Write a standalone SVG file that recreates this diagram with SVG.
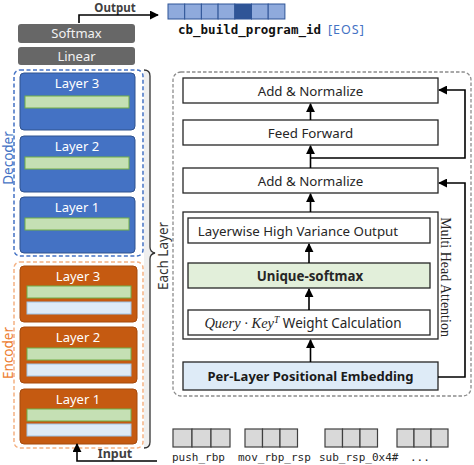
<svg xmlns="http://www.w3.org/2000/svg" width="474" height="465" viewBox="0 0 474 465">
<defs>
<marker id="ah" viewBox="0 0 10 10" refX="9" refY="5" markerWidth="9" markerHeight="9" markerUnits="userSpaceOnUse" orient="auto">
<path d="M0,0 L10,5 L0,10 z" fill="#000"/>
</marker>
</defs>
<style>
.sans{font-family:"Noto Sans","Open Sans","Liberation Sans",sans-serif;}
.mono{font-family:"DejaVu Sans Mono","Liberation Mono",monospace;}
.gray{fill:#676767;}
.gtxt{fill:#F2F2F2;font-size:13px;text-anchor:middle;}
.dec{fill:#4472C4;stroke:#2F528F;stroke-width:1;}
.enc{fill:#C55A11;stroke:#A54A0C;stroke-width:1;}
.grn{fill:#C5E0B4;stroke:#70AD47;stroke-width:1;}
.lb{fill:#DEEBF7;stroke:#9DC3E6;stroke-width:1;}
.ltxt{fill:#fff;font-size:13px;text-anchor:middle;}
.box{fill:#fff;stroke:#262626;stroke-width:1.3;}
.btxt{font-size:13.3px;text-anchor:middle;fill:#262626;}
.con{stroke:#000;stroke-width:1.6;fill:none;}
.tok{fill:#D9D9D9;stroke:#404040;stroke-width:1.2;}
.otok{fill:#8FAADC;stroke:#2F5597;stroke-width:1;}
.ttxt{font-size:11px;fill:#262626;}
</style>

<g id="output-label">
<text x="115" y="12" class="sans" font-size="11.5" text-anchor="middle" fill="#404040" font-weight="bold">Output</text>
</g>
<g id="output-tokens">
<rect x="168" y="4" width="16.7" height="15" class="otok"/>
<rect x="184.7" y="4" width="16.7" height="15" class="otok"/>
<rect x="201.4" y="4" width="16.7" height="15" class="otok"/>
<rect x="218.1" y="4" width="16.7" height="15" class="otok"/>
<rect x="234.8" y="4" width="16.7" height="15" fill="#2F5597" stroke="#2F5597"/>
<rect x="251.5" y="4" width="16.7" height="15" class="otok"/>
<rect x="268.2" y="4" width="16.7" height="15" class="otok"/>
<text x="178" y="34" class="mono" font-size="12.5" font-weight="bold" fill="#111">cb_build_program_id</text>
<text x="328" y="34" class="sans" font-size="12.5" letter-spacing="1" fill="#4472C4">[EOS]</text>
</g>

<g id="softmax">
<rect x="18" y="24" width="117" height="19" rx="3" class="gray"/>
<text x="76.5" y="38" class="sans gtxt">Softmax</text>
</g>
<g id="linear">
<rect x="18" y="47" width="117" height="18" rx="3" class="gray"/>
<text x="76.5" y="61" class="sans gtxt">Linear</text>
</g>

<g id="decoder">
<rect x="14" y="70" width="129" height="186" rx="6" fill="none" stroke="#4472C4" stroke-width="1.5" stroke-dasharray="4,2.5"/>
<text transform="translate(13,158) rotate(-90)" class="sans" font-size="13.5" fill="#4472C4" text-anchor="middle">Decoder</text>
</g>
<g id="decoder-layer3">
<rect x="20" y="73" width="115" height="57" rx="4" class="dec"/>
<text x="77" y="88" class="sans ltxt">Layer 3</text>
<rect x="25" y="96" width="104" height="12" class="grn"/>
</g>
<g id="decoder-layer2">
<rect x="20" y="136" width="115" height="56" rx="4" class="dec"/>
<text x="77" y="151" class="sans ltxt">Layer 2</text>
<rect x="25" y="157" width="104" height="12" class="grn"/>
</g>
<g id="decoder-layer1">
<rect x="20" y="197" width="115" height="56" rx="4" class="dec"/>
<text x="77" y="212" class="sans ltxt">Layer 1</text>
<rect x="25" y="218" width="104" height="12" class="grn"/>
</g>

<g id="encoder">
<rect x="14" y="262" width="129" height="186" rx="6" fill="none" stroke="#F4B183" stroke-width="1.5" stroke-dasharray="4,2.5"/>
<text transform="translate(13,353) rotate(-90)" class="sans" font-size="13.5" fill="#ED7D31" text-anchor="middle">Encoder</text>
</g>
<g id="encoder-layer3">
<rect x="20" y="266" width="117" height="56" rx="4" class="enc"/>
<text x="78" y="281" class="sans ltxt">Layer 3</text>
<rect x="27" y="286" width="104" height="12" class="grn"/>
<rect x="27" y="302" width="104" height="12" class="lb"/>
</g>
<g id="encoder-layer2">
<rect x="20" y="327" width="117" height="56" rx="4" class="enc"/>
<text x="78" y="342" class="sans ltxt">Layer 2</text>
<rect x="27" y="348" width="104" height="12" class="grn"/>
<rect x="27" y="364" width="104" height="12" class="lb"/>
</g>
<g id="encoder-layer1">
<rect x="20" y="389" width="117" height="55" rx="4" class="enc"/>
<text x="78" y="404" class="sans ltxt">Layer 1</text>
<rect x="27" y="409" width="104" height="12" class="grn"/>
<rect x="27" y="424" width="104" height="12" class="lb"/>
</g>

<g id="each-layer">
<path d="M144,70 Q150,70 150,76 L150,247 Q150,252 155,253 Q150,254 150,259 L150,442 Q150,448 144,448 Z" fill="#EFEFEF" stroke="none"/>
<path d="M144,70 Q150,70 150,76 L150,247 Q150,252 155,253 Q150,254 150,259 L150,442 Q150,448 144,448" fill="none" stroke="#333" stroke-width="1.3"/>
<text transform="translate(168,256) rotate(-90)" class="sans" font-size="13.5" fill="#333" text-anchor="middle">Each Layer</text>
</g>

<g id="layer-detail">
<rect x="173" y="72" width="298" height="324" rx="8" fill="none" stroke="#8C8C8C" stroke-width="1.3" stroke-dasharray="3.5,2"/>
</g>
<g id="add-normalize-top">
<rect x="183" y="78" width="255" height="25" class="box"/>
<text x="310.5" y="95.5" class="sans btxt">Add &amp; Normalize</text>
</g>
<g id="feed-forward">
<rect x="183" y="120" width="255" height="25" class="box"/>
<text x="310.5" y="137.5" class="sans btxt">Feed Forward</text>
</g>
<g id="add-normalize-bottom">
<rect x="183" y="168" width="255" height="25" class="box"/>
<text x="310.5" y="185.5" class="sans btxt">Add &amp; Normalize</text>
</g>
<g id="multi-head-attention">
<rect x="183" y="212" width="255" height="127" fill="none" stroke="#262626" stroke-width="1.3"/>
<text transform="translate(441,277) rotate(90)" font-family="'Liberation Serif','DejaVu Serif',serif" font-size="14" fill="#262626" text-anchor="middle">Multi Head Attention</text>
</g>
<g id="layerwise-output">
<rect x="188" y="218" width="242" height="25" class="box"/>
<text x="298" y="235.5" class="sans btxt">Layerwise High Variance Output</text>
</g>
<g id="unique-softmax">
<rect x="188" y="263" width="242" height="25" fill="#E2EFDA" stroke="#262626" stroke-width="1.3"/>
<text x="310" y="281" class="sans btxt" font-weight="bold">Unique-softmax</text>
</g>
<g id="query-key">
<rect x="188" y="310" width="242" height="25" class="box"/>
<text x="303" y="328" class="btxt" fill="#262626"><tspan font-family="'Liberation Serif','DejaVu Serif',serif" font-style="italic" font-size="14.5">Query · Key</tspan><tspan font-family="'Liberation Serif','DejaVu Serif',serif" font-style="italic" font-size="9.5" dy="-5">T</tspan><tspan class="sans" dy="5" font-size="13.5"> Weight Calculation</tspan></text>
</g>
<g id="positional-embedding">
<rect x="183" y="362" width="255" height="28" fill="#DEEBF7" stroke="#262626" stroke-width="1.3"/>
<text x="310.5" y="381" class="sans" font-size="13" font-weight="bold" text-anchor="middle" fill="#1a1a1a">Per-Layer Positional Embedding</text>
</g>

<g id="input-tokens">
<rect x="173" y="429" width="19" height="18" class="tok"/><rect x="192" y="429" width="19" height="18" class="tok"/><rect x="211" y="429" width="19" height="18" class="tok"/>
<rect x="245" y="429" width="17.5" height="18" class="tok"/><rect x="262.5" y="429" width="17.5" height="18" class="tok"/><rect x="280" y="429" width="17.5" height="18" class="tok"/>
<rect x="325" y="429" width="17.5" height="18" class="tok"/><rect x="342.5" y="429" width="17.5" height="18" class="tok"/><rect x="360" y="429" width="17.5" height="18" class="tok"/>
<rect x="397" y="429" width="17" height="18" class="tok"/><rect x="414" y="429" width="17" height="18" class="tok"/><rect x="431" y="429" width="17" height="18" class="tok"/>
<text x="172" y="461" class="mono ttxt">push_rbp</text>
<text x="238" y="461" class="mono ttxt">mov_rbp_rsp</text>
<text x="319" y="461" class="mono ttxt">sub_rsp_0x4#</text>
<text x="410" y="461" class="mono ttxt">...</text>
</g>
<g id="input-label">
<text x="115" y="458" class="sans" font-size="12.5" text-anchor="middle" fill="#404040" font-weight="bold">Input</text>
</g>

<g id="connectors">
<path d="M79,23 L79,15 L158,15" class="con" marker-end="url(#ah)"/>
<path d="M157,461 L77,461 L77,444" class="con" marker-end="url(#ah)"/>
<path d="M310.5,120 L310.5,104" class="con" marker-end="url(#ah)"/>
<path d="M310.5,168 L310.5,146" class="con" marker-end="url(#ah)"/>
<path d="M310.5,158 L465,158 L465,90 L439,90" class="con" marker-end="url(#ah)"/>
<path d="M310.5,212 L310.5,194" class="con" marker-end="url(#ah)"/>
<path d="M438,377 L465,377 L465,183 L439,183" class="con" marker-end="url(#ah)"/>
<path d="M309,263 L309,244" class="con" marker-end="url(#ah)"/>
<path d="M309,310 L309,289" class="con" marker-end="url(#ah)"/>
<path d="M310.5,362 L310.5,340" class="con" marker-end="url(#ah)"/>
</g>
</svg>
